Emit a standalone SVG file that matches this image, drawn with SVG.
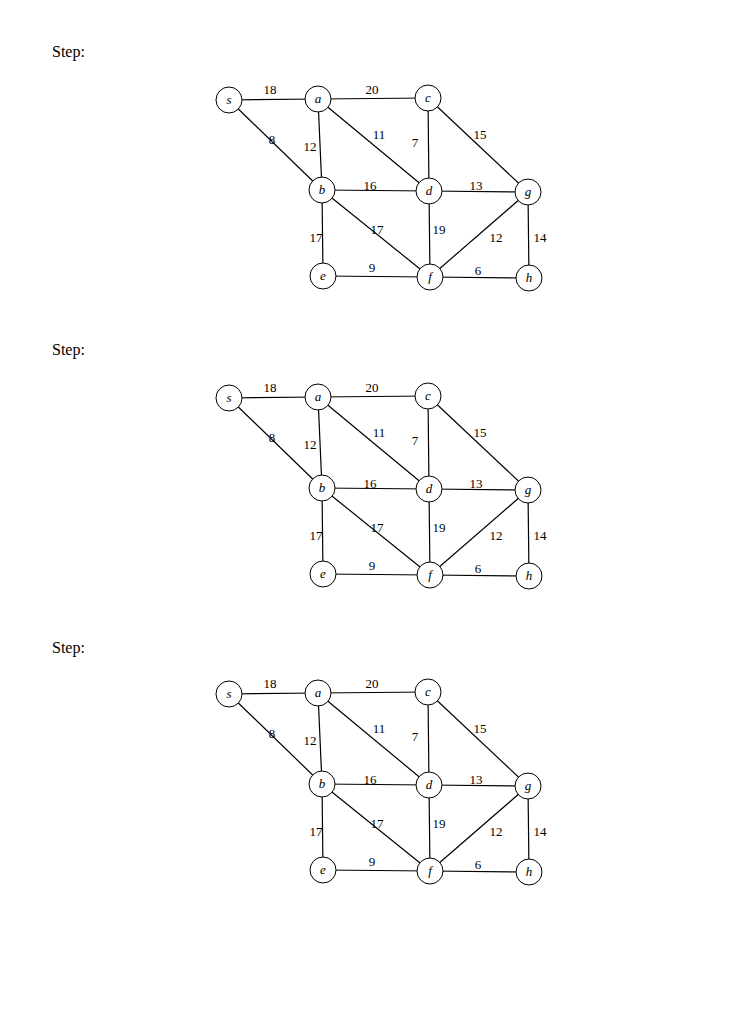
<svg xmlns="http://www.w3.org/2000/svg" xmlns:xlink="http://www.w3.org/1999/xlink" width="734" height="1024" viewBox="0 0 734 1024">
<style>
text{font-family:"Liberation Serif",serif;fill:#000}
.w{font-size:13px;text-anchor:middle}
.n{font-size:13px;font-style:italic;text-anchor:middle}
.st{font-size:16px}
circle{fill:#fff;stroke:#000;stroke-width:1}
line{stroke:#000;stroke-width:1.2}
</style>
<defs>
<g id="graph">
<g id="edges">
<line x1="229" y1="100" x2="318" y2="99"/>
<line x1="318" y1="99" x2="428" y2="98"/>
<line x1="229" y1="100" x2="322" y2="190"/>
<line x1="318" y1="99" x2="322" y2="190"/>
<line x1="318" y1="99" x2="429" y2="191"/>
<line x1="428" y1="98" x2="429" y2="191"/>
<line x1="428" y1="98" x2="528" y2="192"/>
<line x1="322" y1="190" x2="429" y2="191"/>
<line x1="429" y1="191" x2="528" y2="192"/>
<line x1="322" y1="190" x2="323" y2="276"/>
<line x1="322" y1="190" x2="430" y2="277"/>
<line x1="429" y1="191" x2="430" y2="277"/>
<line x1="528" y1="192" x2="430" y2="277"/>
<line x1="528" y1="192" x2="529" y2="278"/>
<line x1="323" y1="276" x2="430" y2="277"/>
<line x1="430" y1="277" x2="529" y2="278"/>
<text class="w" x="270" y="94">18</text><text class="w" x="372" y="94">20</text>
<text class="w" x="272" y="144">8</text><text class="w" x="310" y="151">12</text>
<text class="w" x="379" y="139">11</text><text class="w" x="415" y="147">7</text>
<text class="w" x="480" y="139">15</text><text class="w" x="370" y="190">16</text>
<text class="w" x="476" y="190">13</text><text class="w" x="316" y="242">17</text>
<text class="w" x="377" y="234">17</text><text class="w" x="439" y="234">19</text>
<text class="w" x="496" y="242">12</text><text class="w" x="540" y="242">14</text>
<text class="w" x="372" y="272">9</text><text class="w" x="478" y="275">6</text>
</g>
<g id="node-s"><circle cx="229" cy="100" r="13"/><text class="n" x="229" y="104">s</text></g>
<g id="node-a"><circle cx="318" cy="99" r="13"/><text class="n" x="318" y="103">a</text></g>
<g id="node-c"><circle cx="428" cy="98" r="13"/><text class="n" x="428" y="102">c</text></g>
<g id="node-b"><circle cx="322" cy="190" r="13"/><text class="n" x="322" y="194">b</text></g>
<g id="node-d"><circle cx="429" cy="191" r="13"/><text class="n" x="429" y="195">d</text></g>
<g id="node-g"><circle cx="528" cy="192" r="13"/><text class="n" x="528" y="196">g</text></g>
<g id="node-e"><circle cx="323" cy="276" r="13"/><text class="n" x="323" y="280">e</text></g>
<g id="node-f"><circle cx="430" cy="277" r="13"/><text class="n" x="430" y="281">f</text></g>
<g id="node-h"><circle cx="529" cy="278" r="13"/><text class="n" x="529" y="282">h</text></g>
</g>
</defs>
<rect width="734" height="1024" fill="#fff"/>
<text class="st" x="52" y="57">Step:</text>
<text class="st" x="52" y="355">Step:</text>
<text class="st" x="52" y="653">Step:</text>
<use id="graph1" xlink:href="#graph"/>
<use id="graph2" xlink:href="#graph" transform="translate(0,298)"/>
<use id="graph3" xlink:href="#graph" transform="translate(0,594)"/>
</svg>
